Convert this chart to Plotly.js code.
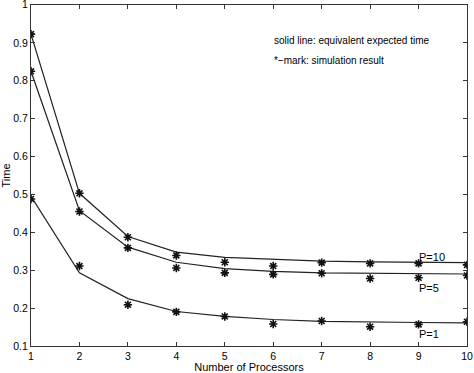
<!DOCTYPE html>
<html><head><meta charset="utf-8">
<script src="https://cdn.plot.ly/plotly-3.0.1.min.js"></script>
<style>html,body{margin:0;padding:0;background:#fff}#c{width:474px;height:373px}</style>
</head><body><div id="c"></div>
<script>
const processors = [1,2,3,4,5,6,7,8,9,10];
const lineP10 = [0.923,0.503,0.389,0.348,0.334,0.328,0.324,0.322,0.321,0.320];
const lineP5  = [0.825,0.457,0.361,0.321,0.304,0.297,0.293,0.292,0.291,0.290];
const lineP1  = [0.495,0.293,0.225,0.191,0.178,0.170,0.165,0.163,0.162,0.161];
const simP10 = [0.923,0.503,0.387,0.339,0.321,0.311,0.320,0.318,0.318,0.314];
const simP5  = [0.825,0.455,0.359,0.306,0.293,0.289,0.292,0.278,0.280,0.286];
const simP1  = [0.488,0.311,0.209,0.190,0.178,0.158,0.166,0.151,0.157,0.164];
const curveLabels = ["P=10","P=5","P=1"];
const labelX = [9,9,9];
const labelY = [0.335,0.254,0.131];
const yTicks = [0.1,0.2,0.3,0.4,0.5,0.6,0.7,0.8,0.9,1];
const yTickText = ['0.1','0.2','0.3','0.4','0.5','0.6','0.7','0.8','0.9',''];
const topTickLabel = '1';
const notes = ["solid line: equivalent expected time","*\u2212mark: simulation result"];

const lineStyle = {color:'#222', width:1.2};
const mk = {symbol:'asterisk-open', size:7, color:'#111', line:{color:'#111', width:1.6}};
const traces = [];
[lineP10,lineP5,lineP1].forEach(y=>traces.push({x:processors,y:y,mode:'lines',line:lineStyle,showlegend:false,hoverinfo:'skip'}));
[simP10,simP5,simP1].forEach(y=>traces.push({x:processors,y:y,mode:'markers',marker:mk,showlegend:false,hoverinfo:'skip'}));

const font = {family:'Liberation Sans, Arial, sans-serif', size:10, color:'#000'};
const titleFont = {family:'Liberation Sans, Arial, sans-serif', size:11, color:'#000'};
const annotations = curveLabels.map((t,i)=>({x:labelX[i],y:labelY[i],text:t,showarrow:false,xanchor:'left',yanchor:'middle',xshift:-2,font:{...font,size:11}}));
annotations.push({xref:'paper',yref:'paper',x:0.553,y:0.895,text:notes[0],showarrow:false,xanchor:'left',yanchor:'middle',font:font});
annotations.push({xref:'paper',yref:'paper',x:0.553,y:0.838,text:notes[1],showarrow:false,xanchor:'left',yanchor:'middle',font:font});
annotations.push({xref:'paper',yref:'y',x:0,y:1,text:topTickLabel,showarrow:false,xanchor:'right',yanchor:'middle',xshift:-1,yshift:1,font:{...font,size:10.5}});

const axisCommon = {showgrid:false, zeroline:false, showline:true, linecolor:'#333', linewidth:1, mirror:'ticks', ticks:'inside', ticklen:4, tickcolor:'#333', tickfont:{...font,size:10.5}, ticklabeloverflow:'allow'};
const layout = {
  width:474, height:373,
  margin:{l:31,r:7,t:5,b:27},
  paper_bgcolor:'#fff', plot_bgcolor:'#fff',
  font:font,
  xaxis:{...axisCommon, range:[1,10], tickvals:processors, ticktext:processors.map(String), title:{text:'Number of Processors', font:titleFont, standoff:0}},
  yaxis:{...axisCommon, range:[0.1,1], tickvals:yTicks, ticktext:yTickText, title:{text:'Time', font:titleFont, standoff:2}},
  annotations:annotations
};
Plotly.newPlot('c', traces, layout, {staticPlot:true, displayModeBar:false});
</script></body></html>
